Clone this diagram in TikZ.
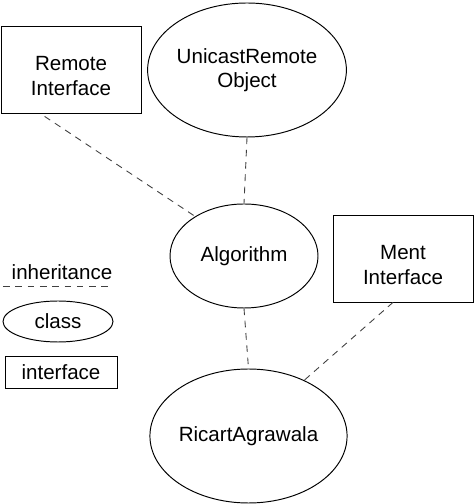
\documentclass[tikz,border=0pt]{standalone}
\usepackage{fontspec}
\setmainfont{Liberation Sans}
\usetikzlibrary{shapes.geometric}
\tikzset{
	classnode/.style={draw, ellipse, line width=0.55pt, inner sep=0pt, align=center, font=\fontsize{11.7}{14}\selectfont},
	ifacenode/.style={draw, rectangle, line width=0.45pt, inner sep=0pt, align=center, font=\fontsize{11.7}{14}\selectfont},
	ifacetext/.style={align=center, inner sep=0pt, yshift=-0.13cm, font=\fontsize{11.7}{14}\selectfont},
	inh/.style={line width=0.5pt, color=black!75, dash pattern=on 3.8pt off 3.2pt}
}

\begin{document}
\begin{tikzpicture}
		%%%%% START %%%%%
		\useasboundingbox (0, 0) rectangle (9.48, 10.08);
		
		\node[ifacenode, minimum width=2.8cm, minimum height=1.74cm, label={[ifacetext]center:Remote\\Interface}] (ri) at (1.42, 8.69) {};
		\node[classnode, minimum width=3.84cm, minimum height=2.68cm] (uro) at (4.94, 8.68) {UnicastRemote\\Object};
		\node[classnode, minimum width=2.96cm, minimum height=2.08cm] (alg) at (4.88, 4.96) {Algorithm};
		\node[ifacenode, minimum width=2.8cm, minimum height=1.74cm, label={[ifacetext]center:Ment\\Interface}] (ment) at (8.06, 4.91) {};
		\node[classnode, minimum width=3.82cm, minimum height=2.68cm] (ra) at (4.97, 1.36) {RicartAgrawala};
		
		\draw[inh] ([xshift=0.88cm, yshift=-0.06cm]ri.south west) -- (alg.141);
		\draw[inh] (uro.south) -- (alg.north);
		\draw[inh] (alg.south) -- (ra.north);
		\draw[inh] ([xshift=-0.2cm]ment.south) -- (ra.45);
		
		% legend
		\node[font=\fontsize{11.7}{14}\selectfont] (lgtext) at (1.24, 4.64) {inheritance};
		\coordinate (lga) at (0.06, 4.36);
		\coordinate (lgb) at (2.16, 4.36);
		\draw[inh] (lga) -- (lgb);
		\node[classnode, minimum width=2.2cm, minimum height=0.82cm] (lgclass) at (1.16, 3.65) {class};
		\node[ifacenode, minimum width=2.24cm, minimum height=0.64cm] (lgiface) at (1.22, 2.64) {interface};
		
		%%%%% END %%%%%
	\end{tikzpicture}
\end{document}
